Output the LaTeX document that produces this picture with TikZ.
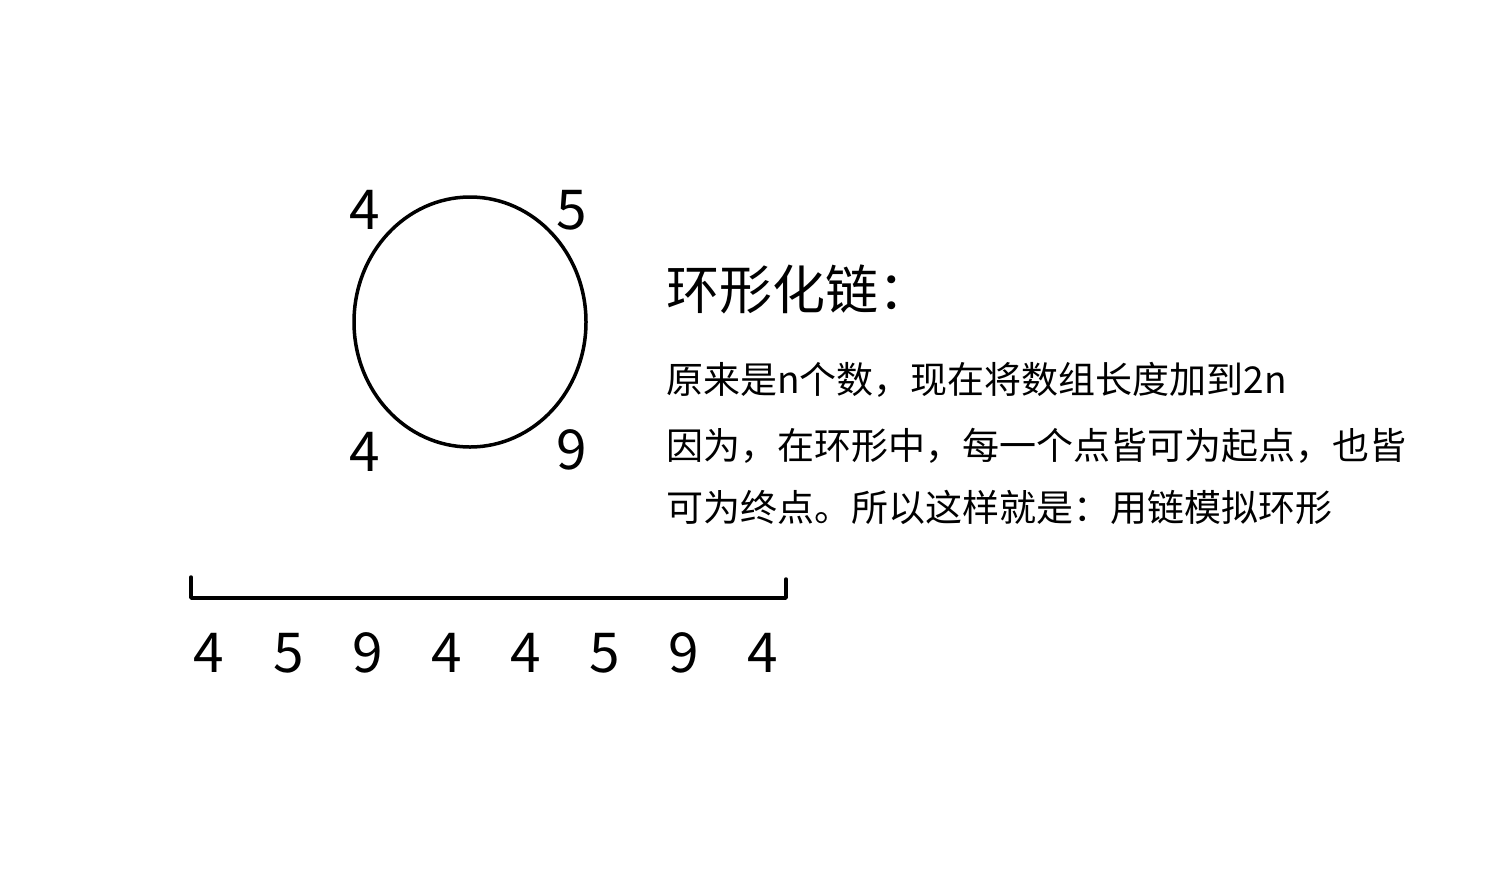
\documentclass[tikz,border=0pt]{standalone}
\usepackage{fontspec}
\usetikzlibrary{shapes.geometric}
\setmainfont{Noto Sans CJK SC}
\begin{document}
\begin{tikzpicture}[x=1pt,y=-1pt,
  digit/.style={inner sep=0pt,font=\fontsize{55}{55}\selectfont},
  title/.style={inner sep=0pt,anchor=west,font=\fontsize{53}{53}\selectfont},
  body/.style={inner sep=0pt,anchor=west,font=\fontsize{37}{37}\selectfont},
  ring/.style={draw=black,line width=3.5pt},
  bar/.style={draw=black,line width=3.5pt,line cap=round,line join=round}]
\useasboundingbox[fill=white] (0,0) rectangle (1499,868);
% circle
\node[ring,ellipse,minimum width=232pt,minimum height=250pt,inner sep=0pt] (ring) at (470,322) {};
\node[digit] (a) at (365,210) {4};
\node[digit] (b) at (572,210) {5};
\node[digit] (c) at (365,452) {4};
\node[digit] (d) at (572,450) {9};
% bracket
\coordinate (b1) at (191,577);
\coordinate (b2) at (191,598);
\coordinate (b3) at (786,598);
\coordinate (b4) at (786,579);
\draw[bar] (b1) -- (b2) -- (b3) -- (b4);
% chain numbers
\node[digit] (n1) at (209,653) {4};
\node[digit] (n2) at (289,653) {5};
\node[digit] (n3) at (368,653) {9};
\node[digit] (n4) at (447,653) {4};
\node[digit] (n5) at (526,653) {4};
\node[digit] (n6) at (605,653) {5};
\node[digit] (n7) at (684,653) {9};
\node[digit] (n8) at (763,653) {4};
% text
\node[title] (t) at (666,289) {环形化链：};
\node[body] (l1) at (666,380) {原来是n个数，现在将数组长度加到2n};
\node[body] (l2) at (666,446) {因为，在环形中，每一个点皆可为起点，也皆};
\node[body] (l3) at (666,507) {可为终点。所以这样就是：用链模拟环形};
\end{tikzpicture}
\end{document}
